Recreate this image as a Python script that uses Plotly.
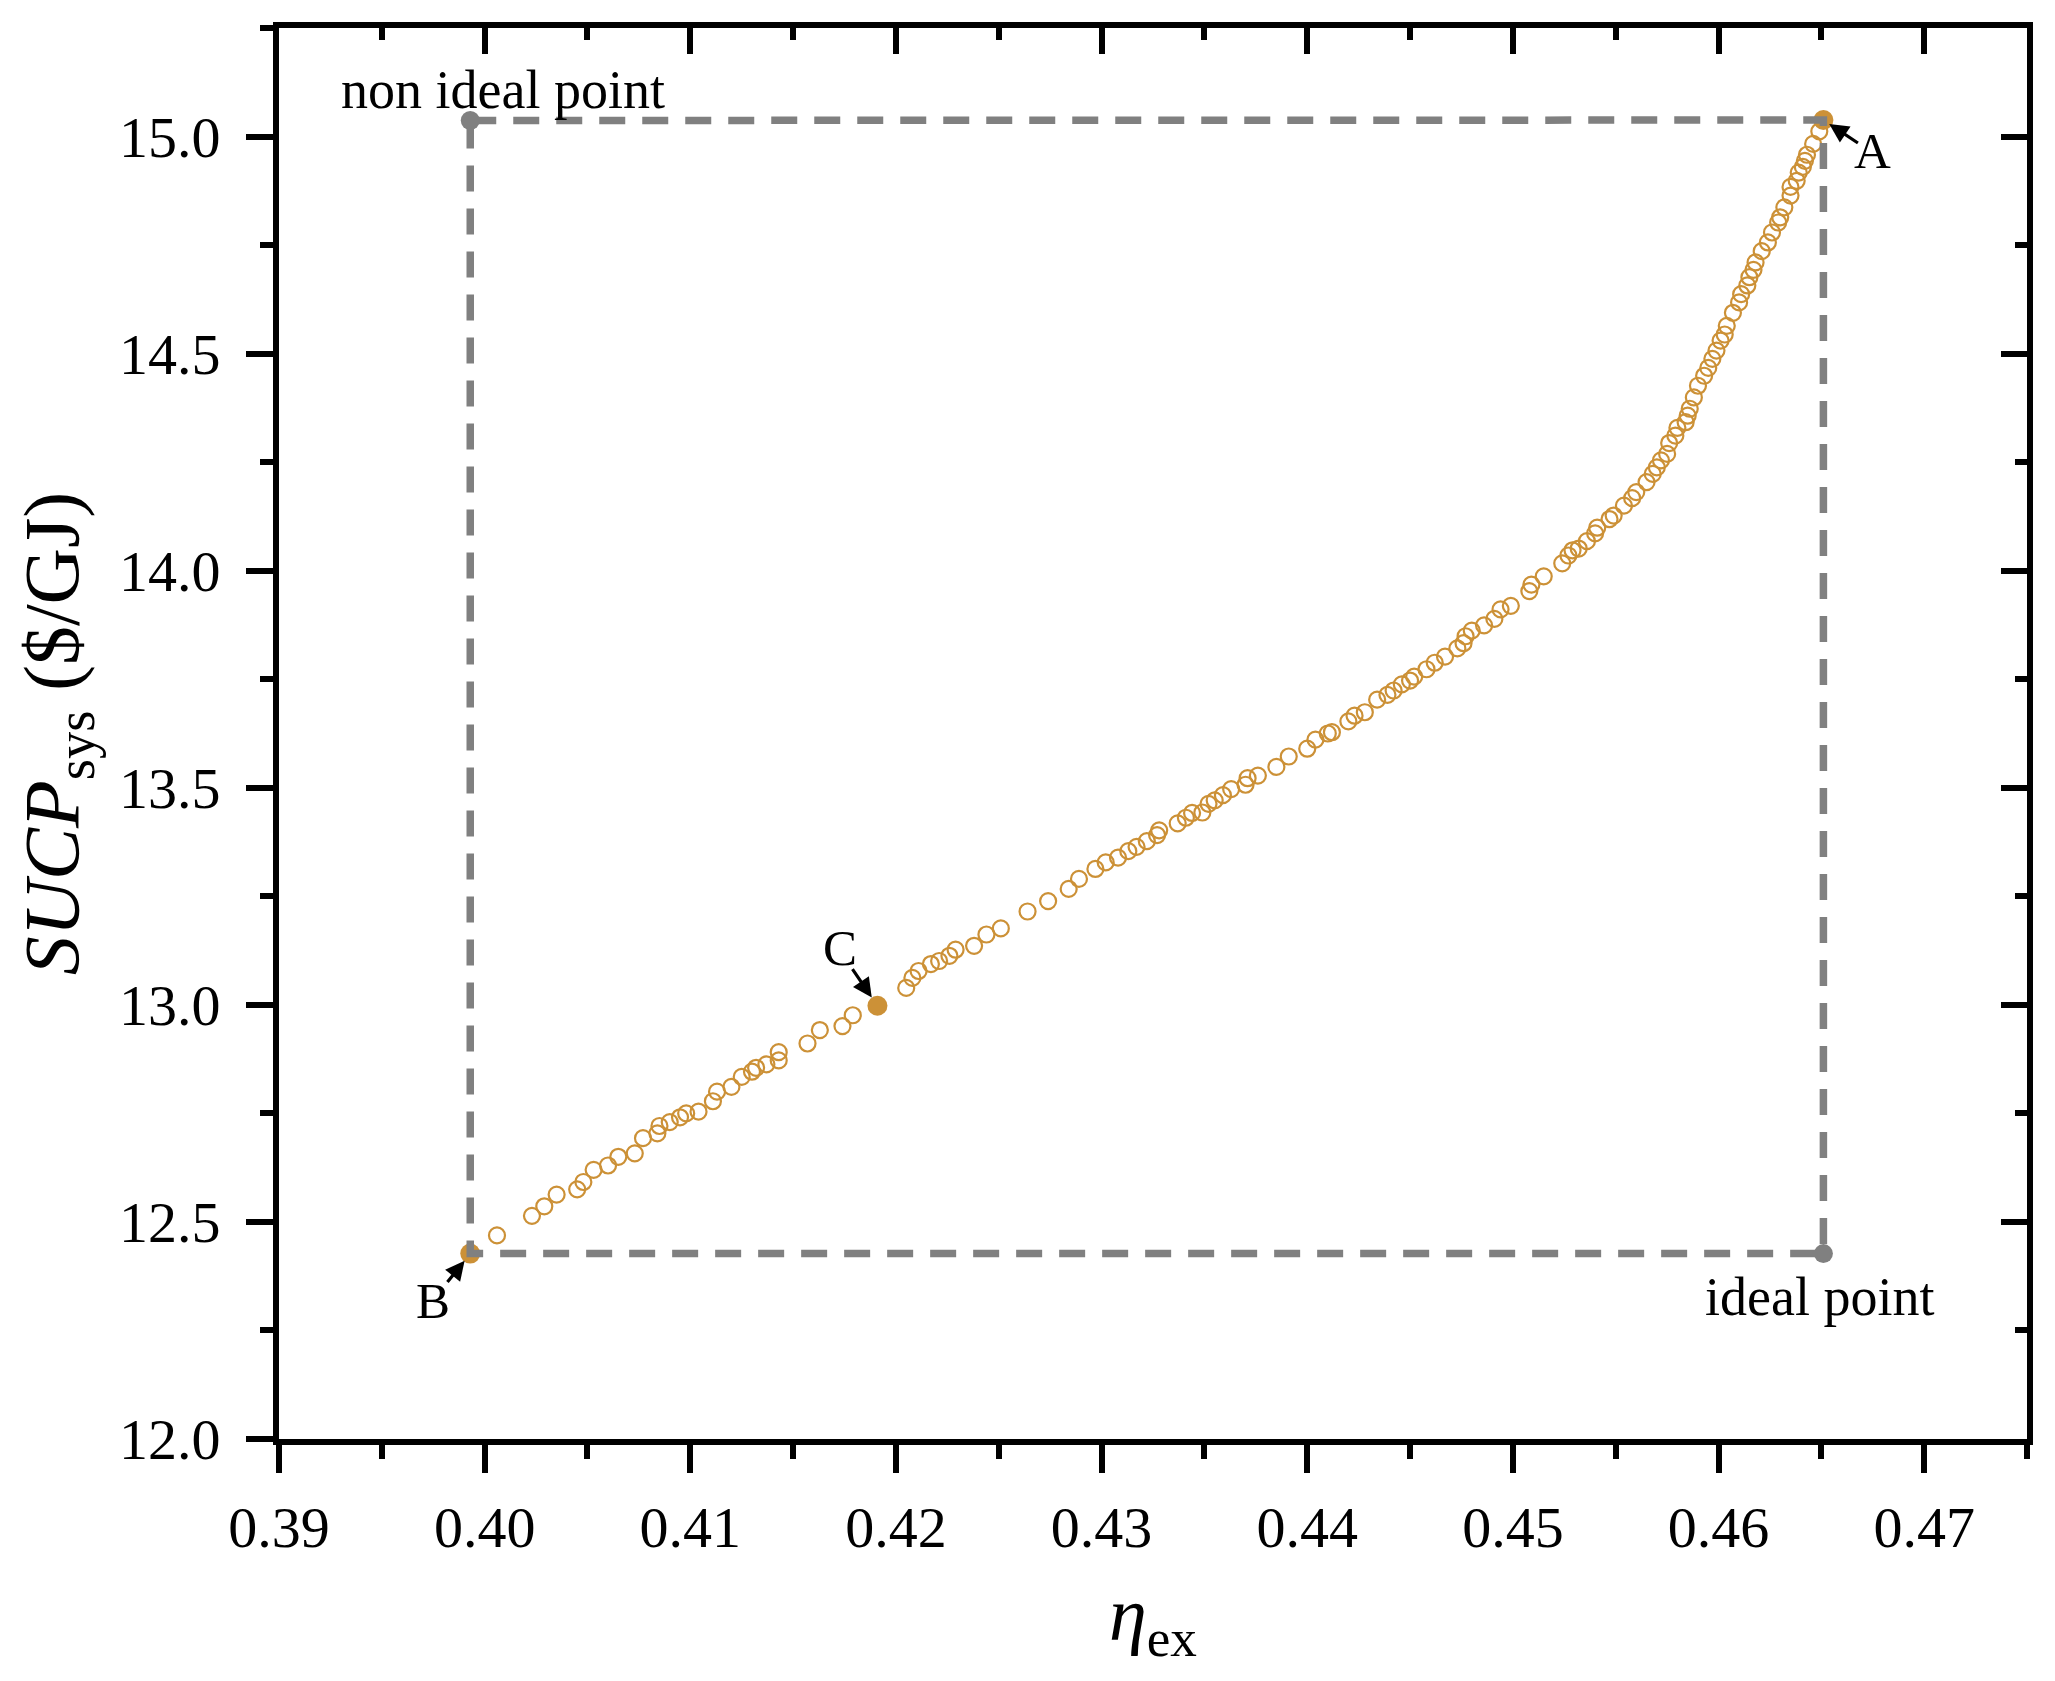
import plotly.graph_objects as go

# ---------------- data ----------------
eta_ex = [
    0.4006, 0.4023, 0.4029, 0.4035, 0.4045, 0.4048, 0.4053, 0.4060, 0.4065, 0.4073,
    0.4077, 0.4084, 0.4085, 0.4090, 0.4095, 0.4098, 0.4104, 0.4111, 0.4113, 0.4120,
    0.4125, 0.4130, 0.4132, 0.4137, 0.4143, 0.4143, 0.4157, 0.4163, 0.4174, 0.4179,
    0.4205, 0.4208, 0.4211, 0.4217, 0.4221, 0.4226, 0.4229, 0.4238, 0.4244, 0.4251,
    0.4264, 0.4274, 0.4284, 0.4289, 0.4297, 0.4302, 0.4308, 0.4313, 0.4317, 0.4322,
    0.4327, 0.4328, 0.4337, 0.4341, 0.4344, 0.4349, 0.4352, 0.4355, 0.4359, 0.4363,
    0.4370, 0.4371, 0.4376, 0.4385, 0.4391,
    0.4400, 0.4404, 0.4410, 0.4412, 0.4420, 0.4423, 0.4428, 0.4434, 0.4439, 0.4442,
    0.4446, 0.4450, 0.4452, 0.4458, 0.4462, 0.4467, 0.4473, 0.4476, 0.4477, 0.4480,
    0.4486, 0.4491, 0.4494, 0.4499, 0.4508, 0.4509, 0.4515, 0.4524, 0.4527, 0.4529,
    0.4532, 0.4536, 0.4540, 0.4541, 0.4547, 0.4549, 0.4554, 0.4558, 0.4560, 0.4565,
    0.4568, 0.4570, 0.4572, 0.4575, 0.4576, 0.4579, 0.4580, 0.4584,
    0.4585, 0.4586, 0.4588, 0.4590, 0.4593, 0.4595, 0.4597, 0.4599, 0.4601, 0.4603,
    0.4604, 0.4607, 0.4610, 0.4611, 0.4614, 0.4615, 0.4617, 0.4618, 0.4621, 0.4624,
    0.4626, 0.4629, 0.4630, 0.4632, 0.4635, 0.4635, 0.4638, 0.4639, 0.4641, 0.4642,
    0.4643, 0.4646, 0.4649,
]
sucp_sys = [
    12.469, 12.514, 12.536, 12.563, 12.575, 12.592, 12.620, 12.630, 12.650, 12.658,
    12.693, 12.704, 12.721, 12.730, 12.741, 12.750, 12.754, 12.778, 12.800, 12.811,
    12.834, 12.846, 12.855, 12.863, 12.872, 12.891, 12.911, 12.942, 12.951, 12.976,
    13.039, 13.062, 13.078, 13.094, 13.101, 13.113, 13.127, 13.136, 13.162, 13.176,
    13.215, 13.239, 13.267, 13.290, 13.313, 13.328, 13.339, 13.354, 13.364, 13.377,
    13.391, 13.402, 13.418, 13.431, 13.442, 13.443, 13.463, 13.471, 13.483, 13.497,
    13.507, 13.522, 13.528, 13.548, 13.572,
    13.590, 13.611, 13.625, 13.628, 13.653, 13.666, 13.674, 13.703, 13.714, 13.724,
    13.738, 13.747, 13.756, 13.773, 13.788, 13.802, 13.821, 13.833, 13.849, 13.862,
    13.874, 13.889, 13.911, 13.919, 13.953, 13.968, 13.987, 14.017, 14.035, 14.047,
    14.051, 14.068, 14.086, 14.099, 14.119, 14.127, 14.150, 14.167, 14.181, 14.204,
    14.223, 14.238, 14.254, 14.269, 14.294, 14.311, 14.329, 14.342,
    14.357, 14.373, 14.399, 14.426, 14.449, 14.467, 14.488, 14.507, 14.530, 14.544,
    14.564, 14.594, 14.618, 14.637, 14.657, 14.676, 14.693, 14.710, 14.736, 14.756,
    14.779, 14.802, 14.814, 14.837, 14.864, 14.884, 14.898, 14.917, 14.930, 14.944,
    14.958, 14.983, 15.012,
]

special_labels = ["A", "B", "C"]
special_eta = [0.4651, 0.3993, 0.4191]
special_sucp = [15.038, 12.427, 12.998]

ref_labels = ["non ideal point", "ideal point"]
ref_eta = [0.3993, 0.4651]
ref_sucp = [15.037, 12.427]

x_ticks = [0.39, 0.40, 0.41, 0.42, 0.43, 0.44, 0.45, 0.46, 0.47]
y_ticks = [12.0, 12.5, 13.0, 13.5, 14.0, 14.5, 15.0]

# ---------------- styles ----------------
ORANGE = "#CC9137"
GREY = "#808080"
FONT = "Liberation Serif"

fig = go.Figure()

fig.add_trace(go.Scatter(
    x=eta_ex, y=sucp_sys, mode="markers",
    marker=dict(symbol="circle-open", size=16, color=ORANGE, line=dict(width=2.2, color=ORANGE)),
    hoverinfo="skip", showlegend=False,
))
fig.add_trace(go.Scatter(
    x=special_eta, y=special_sucp, mode="markers",
    marker=dict(symbol="circle", size=20, color=ORANGE),
    hoverinfo="skip", showlegend=False,
))

# dashed rectangle: non ideal -> A -> ideal -> B -> non ideal
rect_x = [ref_eta[0], special_eta[0], ref_eta[1], special_eta[1], ref_eta[0]]
rect_y = [ref_sucp[0], special_sucp[0], ref_sucp[1], special_sucp[1], ref_sucp[0]]
fig.add_trace(go.Scatter(
    x=rect_x, y=rect_y, mode="lines",
    line=dict(color=GREY, width=7.5, dash="26px,17px"),
    hoverinfo="skip", showlegend=False,
))
fig.add_trace(go.Scatter(
    x=ref_eta, y=ref_sucp, mode="markers",
    marker=dict(symbol="circle", size=19, color=GREY),
    hoverinfo="skip", showlegend=False,
))
# helper trace for mirrored axes (top/right with inward ticks)
fig.add_trace(go.Scatter(
    x=[special_eta[0]], y=[special_sucp[0]], xaxis="x2", yaxis="y2", mode="markers",
    marker=dict(opacity=0), hoverinfo="skip", showlegend=False,
))

XR = [0.39, 0.475]
YR = [12.0, 15.25]

tickfont = dict(family=FONT, size=58, color="black")
LW = 6

fig.update_layout(
    width=2039, height=1665,
    margin=dict(l=271, r=20, t=20, b=234),
    paper_bgcolor="white", plot_bgcolor="white",
    showlegend=False,
    font=dict(family=FONT, color="black"),
    xaxis=dict(
        range=XR, showgrid=False, zeroline=False,
        showline=True, linecolor="black", linewidth=LW,
        tickmode="array", tickvals=x_ticks, ticktext=[f"{v:.2f}" for v in x_ticks],
        ticks="outside", ticklen=28, tickwidth=LW, tickcolor="black",
        minor=dict(dtick=0.005, tick0=0.39, ticks="outside", ticklen=14, tickwidth=LW,
                   tickcolor="black", showgrid=False),
        tickfont=tickfont, ticklabelstandoff=4,
        title=dict(text="<i>η</i><sub>ex</sub>", font=dict(family=FONT, size=76), standoff=30),
    ),
    yaxis=dict(
        range=YR, showgrid=False, zeroline=False,
        showline=True, linecolor="black", linewidth=LW,
        tickmode="array", tickvals=y_ticks, ticktext=[f"{v:.1f}" for v in y_ticks],
        ticks="outside", ticklen=27, tickwidth=LW, tickcolor="black",
        minor=dict(dtick=0.25, tick0=12.0, ticks="outside", ticklen=13, tickwidth=LW,
                   tickcolor="black", showgrid=False),
        tickfont=tickfont, ticklabelstandoff=14,
        title=dict(text="<i>SUCP</i><sub>sys</sub> ($/GJ)", font=dict(family=FONT, size=78), standoff=26),
    ),
    xaxis2=dict(
        range=XR, overlaying="x", side="top", anchor="y",
        showgrid=False, zeroline=False, showline=True, linecolor="black", linewidth=LW,
        tickmode="array", tickvals=x_ticks, showticklabels=False,
        ticks="inside", ticklen=26, tickwidth=LW, tickcolor="black",
        minor=dict(dtick=0.005, tick0=0.39, ticks="inside", ticklen=12, tickwidth=LW,
                   tickcolor="black", showgrid=False),
    ),
    yaxis2=dict(
        range=YR, overlaying="y", side="right", anchor="x",
        showgrid=False, zeroline=False, showline=True, linecolor="black", linewidth=LW,
        tickmode="array", tickvals=y_ticks, showticklabels=False,
        ticks="inside", ticklen=26, tickwidth=LW, tickcolor="black",
        minor=dict(dtick=0.25, tick0=12.0, ticks="inside", ticklen=12, tickwidth=LW,
                   tickcolor="black", showgrid=False),
    ),
)

# arrows pointing at A, B, C (tail offsets in px) and their letters
arrow_tail = {"A": (36, 24), "B": (-24, 30), "C": (-26, -38)}
arrow_standoff = {"A": 7, "B": 9, "C": 10}
letter_shift = {"A": (49, -31), "B": (-37, -47), "C": (-37, 58)}
for lab, xv, yv in zip(special_labels, special_eta, special_sucp):
    ax, ay = arrow_tail[lab]
    fig.add_annotation(
        x=xv, y=yv, xref="x", yref="y", text="",
        showarrow=True, ax=ax, ay=ay, axref="pixel", ayref="pixel",
        arrowhead=2, arrowsize=1.2, arrowwidth=3.2, arrowcolor="black",
        standoff=arrow_standoff[lab],
    )
    xs, ys = letter_shift[lab]
    fig.add_annotation(
        x=xv, y=yv, xref="x", yref="y", text=lab, showarrow=False,
        xshift=xs, yshift=ys,
        font=dict(family=FONT, size=51, color="black"),
    )

# reference point labels
ref_shift = {"non ideal point": (33, 30), "ideal point": (-4, -43)}
for lab, xv, yv in zip(ref_labels, ref_eta, ref_sucp):
    xs, ys = ref_shift[lab]
    fig.add_annotation(
        x=xv, y=yv, xref="x", yref="y", text=lab, showarrow=False,
        xshift=xs, yshift=ys,
        font=dict(family=FONT, size=54, color="black"),
    )

fig.write_html("out.html")
